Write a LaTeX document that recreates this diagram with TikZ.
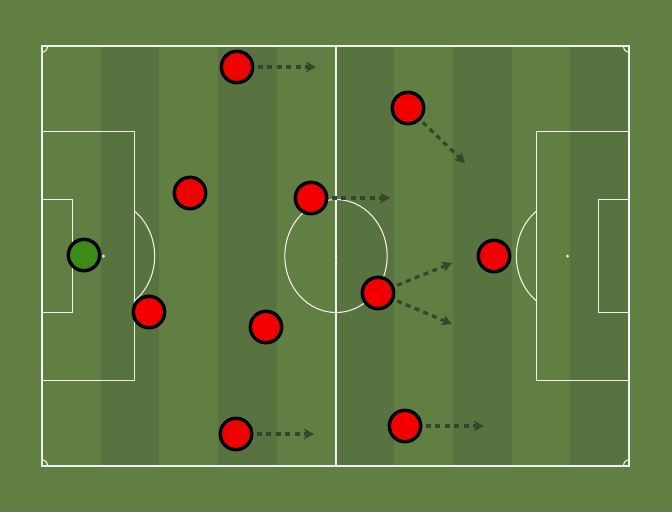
\documentclass[tikz,border=0pt]{standalone}
\usetikzlibrary{arrows.meta,shadows}
\definecolor{grasslight}{HTML}{627F43}
\definecolor{grassdark}{HTML}{58733F}
\definecolor{runarrow}{HTML}{33472A}
\definecolor{shirtred}{HTML}{F20000}
\definecolor{keepergreen}{HTML}{3C8A18}
\begin{document}
\begin{tikzpicture}[x=0.75pt,y=-0.75pt,
  pitchline/.style={draw=white,draw opacity=.9,line width=.8pt},
  player/.style={circle,draw=black,line width=2.6pt,fill=shirtred,minimum size=23.5pt,inner sep=0pt,
    drop shadow={opacity=.25,shadow xshift=0pt,shadow yshift=-.8pt}},
  keeper/.style={player,fill=keepergreen},
  run/.style={draw=runarrow,line width=2.4pt,dash pattern=on 3.8pt off 3.3pt,
    -{Stealth[length=7.5pt,width=8pt,inset=2pt]},shorten <=2.5pt}]
% grass and stripes
\fill[grasslight] (0,0) rectangle (672,512);
\useasboundingbox (0,0) rectangle (672,512);
\foreach \i in {1,3,5,7,9}
  \fill[grassdark] ({42+58.7*\i},46) rectangle ({42+58.7*(\i+1)},466);
% pitch markings
\draw[pitchline] (42,46) rectangle (629,466);
\draw[pitchline] (336,46) -- (336,466);
\draw[pitchline] (336,256) ellipse [x radius=51.2,y radius=56.5];
\fill[white] (336,256) circle (1.5);
% left half
\draw[pitchline] (42,131.4) rectangle (134.3,380.6);
\draw[pitchline] (42,199.4) rectangle (72.7,312.6);
\fill[white] (103.5,256) circle (1.5);
\draw[pitchline] (134.3,210.9) arc[start angle=-53,end angle=53,x radius=51.2,y radius=56.5];
% right half
\draw[pitchline] (536.7,131.4) rectangle (629,380.6);
\draw[pitchline] (598.3,199.4) rectangle (629,312.6);
\fill[white] (567.5,256) circle (1.5);
\draw[pitchline] (536.7,301.1) arc[start angle=127,end angle=233,x radius=51.2,y radius=56.5];
% corners
\draw[pitchline] (47.6,46) arc[start angle=0,end angle=90,x radius=5.6,y radius=6.2];
\draw[pitchline] (629,52.2) arc[start angle=90,end angle=180,x radius=5.6,y radius=6.2];
\draw[pitchline] (42,459.8) arc[start angle=-90,end angle=0,x radius=5.6,y radius=6.2];
\draw[pitchline] (623.4,466) arc[start angle=180,end angle=270,x radius=5.6,y radius=6.2];
% players
\node[keeper] (gk) at (84,255) {};
\node[player] (p1) at (237,67) {};
\node[player] (p2) at (408,108) {};
\node[player] (p3) at (190,193) {};
\node[player] (p4) at (311,198) {};
\node[player] (p5) at (494,256) {};
\node[player] (p6) at (378,293) {};
\node[player] (p7) at (149,312) {};
\node[player] (p8) at (266,327) {};
\node[player] (p9) at (236,434) {};
\node[player] (p10) at (405,426) {};
% runs
\coordinate (p1run) at (316,67);
\coordinate (p2run) at (465,163);
\coordinate (p4run) at (390,198);
\coordinate (p6up) at (452,263);
\coordinate (p6down) at (452,324);
\coordinate (p9run) at (314,434);
\coordinate (p10run) at (484,426);
\draw[run] (p1) -- (p1run);
\draw[run] (p2) -- (p2run);
\draw[run] (p4) -- (p4run);
\draw[run] (p6) -- (p6up);
\draw[run] (p6) -- (p6down);
\draw[run] (p9) -- (p9run);
\draw[run] (p10) -- (p10run);
\end{tikzpicture}
\end{document}
